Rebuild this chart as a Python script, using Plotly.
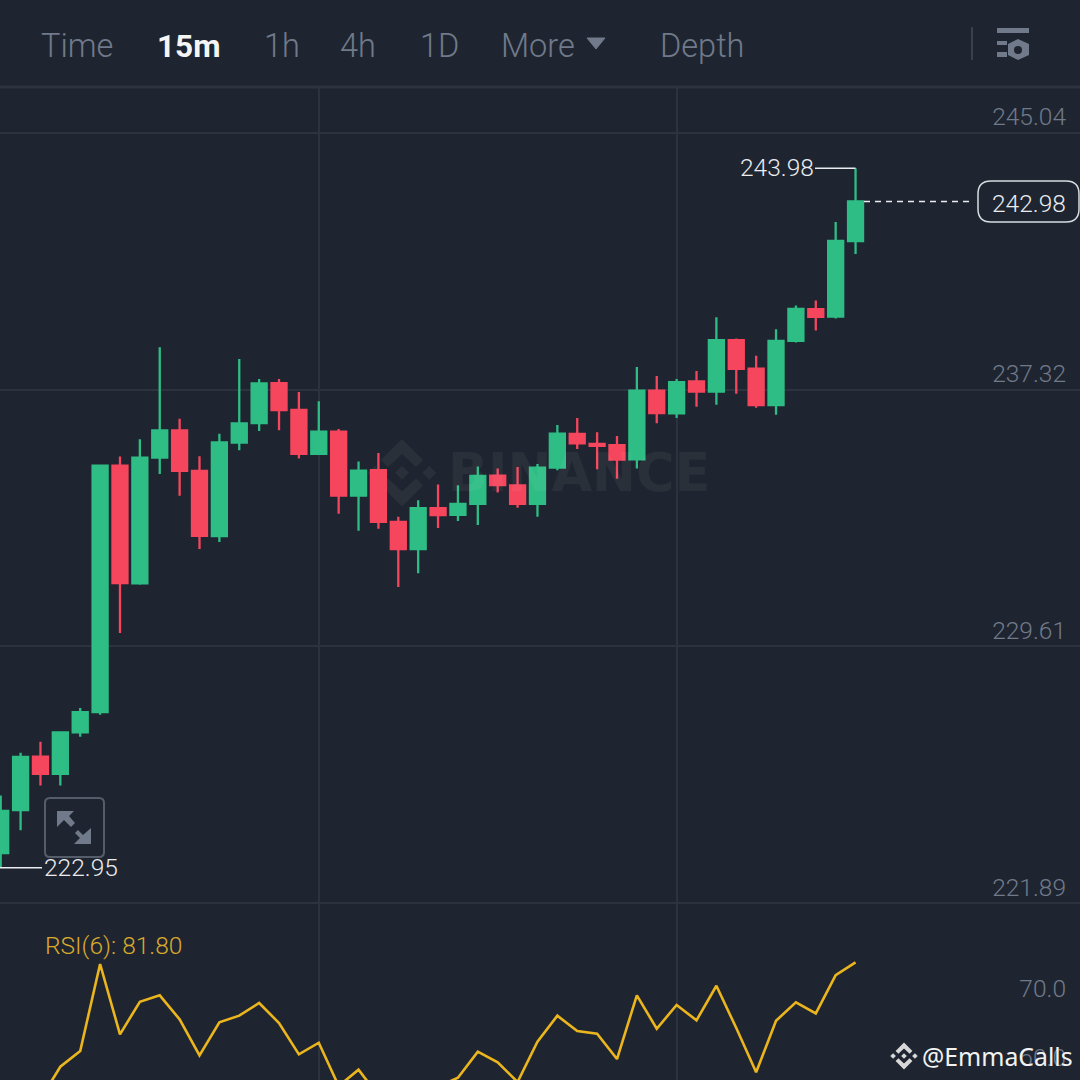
import plotly.graph_objects as go

# 15m candles
candle_idx = list(range(44))
opens = [223.39, 224.68, 226.29, 225.77, 227.02, 227.63, 235.04, 231.50, 235.28, 236.10, 234.88,
         232.92, 235.73, 236.32, 237.52, 236.71, 235.39, 236.06, 234.14, 234.90, 233.35, 232.53,
         233.76, 233.56, 233.89, 234.74, 234.44, 233.89, 234.98, 235.99, 235.69, 235.65, 235.23,
         237.29, 236.61, 237.57, 237.26, 238.81, 237.95, 236.86, 238.79, 239.74, 239.52, 241.79]
highs = [225.12, 226.41, 226.74, 227.03, 227.75, 235.05, 235.31, 235.83, 238.60, 236.45, 235.32,
         236.00, 238.24, 237.64, 237.64, 237.25, 236.97, 236.14, 235.16, 235.42, 233.50, 234.00,
         234.47, 234.45, 235.01, 234.95, 235.00, 235.09, 236.26, 236.47, 236.04, 235.93, 238.00,
         237.73, 237.64, 237.88, 239.50, 238.86, 238.34, 239.14, 239.85, 240.00, 242.36, 243.98]
lows = [222.95, 224.08, 225.42, 225.42, 226.89, 227.55, 230.01, 231.46, 234.79, 234.13, 232.53,
        232.74, 235.50, 236.08, 236.10, 235.25, 235.39, 233.59, 233.08, 233.14, 231.39, 231.80,
        233.16, 233.37, 233.25, 234.23, 233.77, 233.50, 234.90, 235.54, 234.93, 234.64, 234.95,
        236.31, 236.47, 236.81, 236.87, 237.20, 236.78, 236.57, 238.74, 239.10, 239.46, 241.40]
closes = [224.66, 226.28, 225.77, 227.02, 227.63, 235.04, 231.51, 235.28, 236.10, 234.88, 232.93,
          235.74, 236.31, 237.51, 236.71, 235.39, 236.06, 234.14, 234.89, 233.35, 232.53, 233.76,
          233.55, 233.89, 234.73, 234.45, 233.89, 234.98, 236.00, 235.71, 235.63, 235.22, 237.29,
          236.62, 237.55, 237.26, 238.81, 237.95, 236.86, 238.79, 239.75, 239.51, 241.79, 242.98]

rsi = [None, None, 53.91, 58.59, 60.87, 73.48, 63.29, 68.01, 68.94, 65.46, 60.25,
       65.03, 65.99, 67.83, 64.93, 60.39, 62.07, 55.80, 58.16, 54.39, 54.06, 54.93,
       55.70, 57.00, 60.77, 59.23, 56.38, 62.22, 65.99, 63.77, 63.38, 59.71, 68.94,
       64.10, 67.54, 65.32, 70.33, 64.20, 57.78, 65.26, 67.93, 66.33, 71.88, 73.72]

price_ticks = [245.04, 237.32, 229.61, 221.89]
rsi_ticks = [70.0, 60.0]
time_grid = [16, 34]
tabs = [("Time", 40), ("1h", 263), ("4h", 339), ("1D", 419), ("More", 500), ("Depth", 659)]
last_price = 242.98
high_price = 243.98
low_price = 222.95

BG = "#1F2530"
GRID = "#2C323E"
GREEN = "#2EBD85"
RED = "#F6465D"
GREY = "#707A8A"
YELLOW = "#EBB51D"
WHITE = "#EAECEF"
FONT = "Roboto"


def px(x):
    return x / 1080


def py(y):
    return 1 - y / 1080


def poly(points):
    return "M" + " L".join(f"{px(x):.5f},{py(y):.5f}" for x, y in points) + " Z"


def round_rect(x0, y0, x1, y1, r):
    return (f"M{px(x0 + r):.5f},{py(y0):.5f} L{px(x1 - r):.5f},{py(y0):.5f} "
            f"Q{px(x1):.5f},{py(y0):.5f} {px(x1):.5f},{py(y0 + r):.5f} "
            f"L{px(x1):.5f},{py(y1 - r):.5f} Q{px(x1):.5f},{py(y1):.5f} {px(x1 - r):.5f},{py(y1):.5f} "
            f"L{px(x0 + r):.5f},{py(y1):.5f} Q{px(x0):.5f},{py(y1):.5f} {px(x0):.5f},{py(y1 - r):.5f} "
            f"L{px(x0):.5f},{py(y0 + r):.5f} Q{px(x0):.5f},{py(y0):.5f} {px(x0 + r):.5f},{py(y0):.5f} Z")


def paper_shape(path, fill=None, line=None, width=0, layer="above"):
    return dict(type="path", path=path, xref="paper", yref="paper", layer=layer,
                fillcolor=fill or "rgba(0,0,0,0)", line=dict(color=line or "rgba(0,0,0,0)", width=width))


def paper_line(x0, y0, x1, y1, color, width, dash="solid"):
    return dict(type="line", xref="paper", yref="paper", x0=px(x0), y0=py(y0), x1=px(x1), y1=py(y1),
                line=dict(color=color, width=width, dash=dash))


def logo(cx, cy, s, color, layer):
    out = []
    for k in (-1, 1):
        chevron = [(0, -33.7), (21, -12.7), (14, -5.7), (0, -18.7), (-14, -5.7), (-21, -12.7)]
        out.append(paper_shape(poly([(cx + s * a, cy + k * s * -b) for a, b in chevron]), color, layer=layer))
    for dx in (-27.3, 0, 27.3):
        diamond = [(dx, -7), (dx + 7, 0), (dx, 7), (dx - 7, 0)]
        out.append(paper_shape(poly([(cx + s * a, cy + s * b) for a, b in diamond]), color, layer=layer))
    return out


def label(text, x, y, size, color, anchor="left", weight=300, family=FONT):
    return dict(text=text, x=px(x), y=py(y), xref="paper", yref="paper", showarrow=False,
                xanchor=anchor, yanchor="middle", borderpad=0,
                font=dict(family=family, size=size, color=color, weight=weight))


shapes = [
    paper_line(0, 87, 1080, 87, GRID, 3),
    paper_line(972, 27, 972, 60, "#3A404C", 2),
    # last price guide
    dict(type="line", xref="paper", yref="y", x0=px(864), x1=px(970), y0=last_price, y1=last_price,
         line=dict(color=WHITE, width=1.5, dash="6px,5px")),
    paper_shape(round_rect(978, 181, 1079, 222, 13), line="#D8DBE0", width=1.5),
    # high and low leaders
    dict(type="line", xref="paper", yref="y", x0=px(815), x1=px(855.5), y0=high_price, y1=high_price,
         line=dict(color=WHITE, width=1.5)),
    dict(type="line", xref="paper", yref="y", x0=px(0), x1=px(42), y0=low_price, y1=low_price,
         line=dict(color=WHITE, width=1.5)),
    # More triangle
    paper_shape(poly([(587, 38), (605, 38), (596, 49)]), GREY, GREY, 1),
    # settings icon
    paper_shape(poly([(997, 28), (1029, 28), (1029, 33), (997, 33)]), GREY),
    paper_shape(poly([(997, 41), (1007, 41), (1007, 45), (997, 45)]), GREY),
    paper_shape(poly([(997, 52), (1007, 52), (1007, 57), (997, 57)]), GREY),
    paper_shape(poly([(1018, 39), (1029, 44), (1029, 55), (1018, 60), (1008, 55), (1008, 44)]), GREY),
    dict(type="circle", xref="paper", yref="paper", x0=px(1014), x1=px(1022), y0=py(54), y1=py(46),
         fillcolor=BG, line=dict(width=0)),
    # expand button
    paper_shape(round_rect(45, 798, 104, 857, 5), line="#565D6A", width=2),
    paper_shape(poly([(57, 811), (74, 811), (69, 816), (75, 823), (71, 827), (64, 820), (57, 827)]), GREY),
    paper_shape(poly([(91, 844), (74, 844), (80, 838), (75, 833), (78, 830), (83, 835), (91, 828)]), GREY),
]
shapes += logo(402, 472.7, 1, "rgba(255,255,255,0.05)", "below")
shapes += logo(904, 1056, 0.4, "#D8D8D8", "above")

annotations = [label(text, x, 46, 32.5, GREY) for text, x in tabs]
annotations += [
    label("15m", 156, 46, 31.5, "#F5F5F5", weight=700),
    label("BINANCE", 447, 473, 52.5, "rgba(255,255,255,0.05)", weight=700, family="DejaVu Sans"),
    label(f"{last_price:.2f}", 1028.5, 203, 24.5, WHITE, "center"),
    label(f"{high_price:.2f}", 815, 167, 24.5, WHITE, "right"),
    label(f"{low_price:.2f}", 43, 867, 24.5, WHITE),
    label("RSI(6): 81.80", 44, 945, 24.5, "#D9A92C"),
    label("@EmmaCalls", 921, 1056, 24.8, "#F2F2F2", weight=400, family="Noto Sans"),
]

fig = go.Figure()
fig.add_trace(go.Candlestick(
    x=candle_idx, open=opens, high=highs, low=lows, close=closes,
    increasing=dict(line=dict(color=GREEN, width=2.3), fillcolor=GREEN),
    decreasing=dict(line=dict(color=RED, width=2.3), fillcolor=RED),
    whiskerwidth=0, xaxis="x", yaxis="y",
))
fig.add_trace(go.Scatter(x=candle_idx, y=rsi, mode="lines", xaxis="x", yaxis="y2",
                         line=dict(color=YELLOW, width=2.6)))

axis_text = dict(family=FONT, size=24.5, color=GREY, weight=300)
fig.update_layout(
    width=1080, height=1080, margin=dict(l=0, r=0, t=0, b=0, autoexpand=False),
    paper_bgcolor=BG, plot_bgcolor=BG, showlegend=False, boxgap=0.245, boxgroupgap=0,
    xaxis=dict(range=[-0.035, 54.29], anchor="y", automargin=False, rangeslider=dict(visible=False),
               tickvals=time_grid, showticklabels=False, ticks="", showgrid=True, gridcolor=GRID, gridwidth=2,
               zeroline=False, showline=False),
    yaxis=dict(domain=[py(905), py(87)], range=[221.83, 246.42], side="right", anchor="x", automargin=False,
               tickvals=price_ticks, tickformat=".2f", ticklabelposition="inside", ticklabelshift=-16,
               ticklabelstandoff=11, ticklabeloverflow="allow", tickfont=axis_text, ticks="",
               showgrid=True, gridcolor=GRID, gridwidth=2, zeroline=False, showline=False),
    yaxis2=dict(domain=[0, py(905)], range=[56.67, 82.03], side="right", anchor="x", automargin=False,
                tickvals=rsi_ticks, tickformat=".1f", ticklabelposition="inside", ticklabelstandoff=11,
                ticklabeloverflow="allow", tickfont=axis_text, ticks="", showgrid=False, zeroline=False,
                showline=False),
    shapes=shapes, annotations=annotations,
)

fig.write_html("out.html", config={"displayModeBar": False},
               post_script="document.body.style.margin='0';")
